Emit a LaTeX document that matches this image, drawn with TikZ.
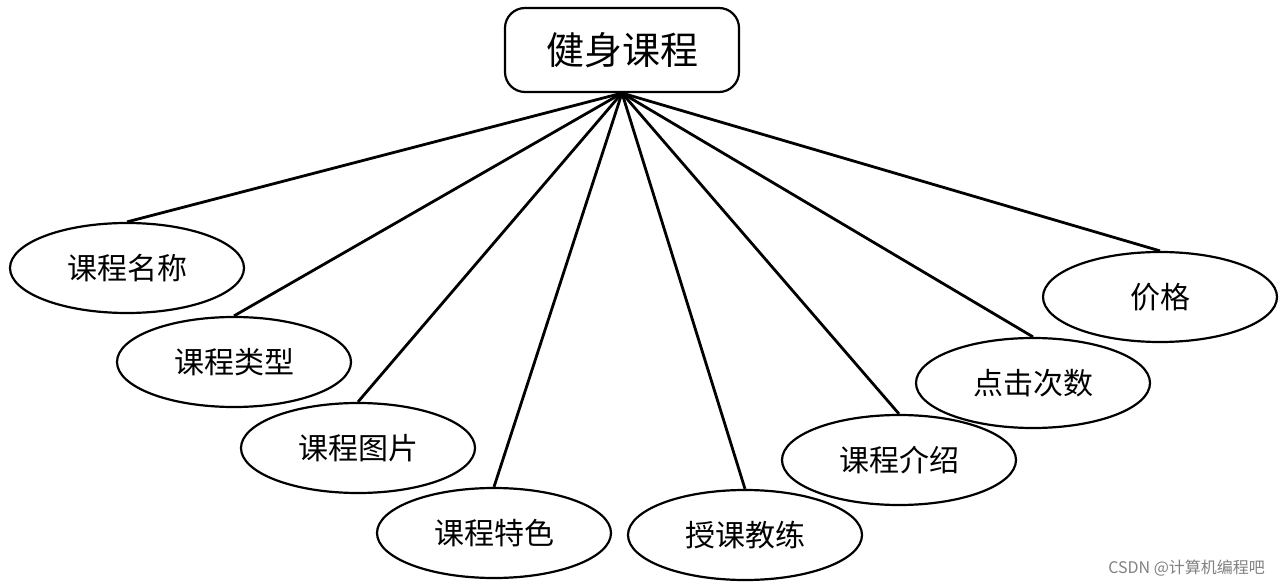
\documentclass[tikz,border=0pt]{standalone}
\usepackage{fontspec}
\usetikzlibrary{shapes.geometric}
\newfontfamily\cjk{Noto Sans CJK SC}
\begin{document}
\begin{tikzpicture}[x=0.5pt,y=-0.5pt,
  attr/.style={draw,line width=1.1pt,ellipse,minimum width=117pt,minimum height=45pt,inner sep=0pt,font=\cjk\fontsize{15}{15}\selectfont},
  ent/.style={draw,line width=1.1pt,rounded corners=10pt,minimum width=117pt,minimum height=42pt,font=\cjk\fontsize{19}{19}\selectfont},
  link/.style={line width=1.4pt}]
\useasboundingbox (0,0) rectangle (1285,588);
\node[ent] (e) at (622,50) {健身课程};
\node[attr] (a1) at (127,268) {课程名称};
\node[attr] (a2) at (234,362) {课程类型};
\node[attr] (a3) at (358,448) {课程图片};
\node[attr] (a4) at (494,533) {课程特色};
\node[attr] (a5) at (745,535) {授课教练};
\node[attr] (a6) at (899,460) {课程介绍};
\node[attr] (a7) at (1033,383) {点击次数};
\node[attr] (a8) at (1160,297) {价格};
\foreach \i in {1,...,8} \draw[link] (e.south) -- (a\i.north);
\node[font=\cjk\fontsize{8}{8}\selectfont,text=gray,anchor=east] (w) at (1272,568) {CSDN @计算机编程吧};
\end{tikzpicture}
\end{document}
